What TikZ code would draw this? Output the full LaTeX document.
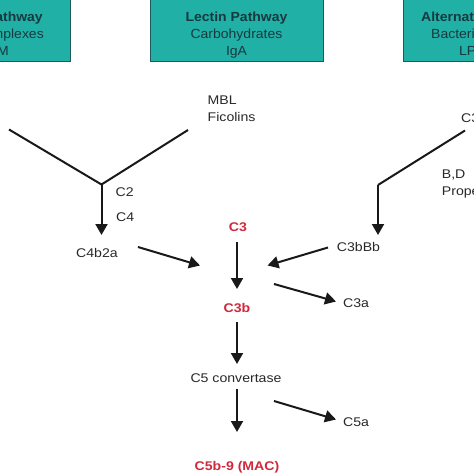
\documentclass[tikz,border=0pt]{standalone}
\usepackage{fontspec}
\setmainfont{Liberation Sans}
\newfontfamily\bodyf{Liberation Sans}[FakeStretch=1.12]
\newfontfamily\boxf{Liberation Sans}[FakeStretch=1.06]
\usetikzlibrary{arrows.meta}
\definecolor{boxfill}{RGB}{32,176,166}
\definecolor{boxedge}{RGB}{30,88,96}
\definecolor{boxtext}{RGB}{22,58,64}
\definecolor{bodytext}{RGB}{40,40,40}
\definecolor{hired}{RGB}{208,40,60}
\begin{document}
\begin{tikzpicture}[x=1pt,y=-1pt,
  pathbox/.style={draw=boxedge,line width=1.4pt,fill=boxfill},
  boxtitle/.style={anchor=base,inner sep=0pt,text=boxtext,font=\boxf\bfseries\fontsize{13.2}{15}\selectfont},
  boxline/.style={anchor=base,inner sep=0pt,text=boxtext,font=\boxf\fontsize{13.2}{15}\selectfont},
  lbl/.style={anchor=base west,inner sep=0pt,text=bodytext,font=\bodyf\fontsize{12.6}{14}\selectfont},
  keylbl/.style={anchor=base,inner sep=0pt,text=hired,font=\bodyf\bfseries\fontsize{12.6}{14}\selectfont},
  ln/.style={line width=2pt,draw=black!90},
  arr/.style={ln,-{Triangle[length=11pt,width=12pt]}}]
\useasboundingbox (0,0) rectangle (474,474);
\clip (0,0) rectangle (474,474);
% pathway boxes
\node[pathbox,minimum width=173pt,minimum height=72pt,anchor=south east] (classbox) at (71,62) {};
\node[pathbox,minimum width=173pt,minimum height=72pt,anchor=south west] (lectbox) at (150,62) {};
\node[pathbox,minimum width=173pt,minimum height=72pt,anchor=south west] (altbox) at (403,62) {};
% box texts
\node[boxtitle,anchor=base east] (cl1) at (43,21) {Classical Pathway};
\node[boxline,anchor=base east] (cl2) at (44,38.3) {Immune complexes};
\node[boxline,anchor=base east] (cl3) at (9,55.5) {IgM};
\node[boxtitle] (le1) at (236.5,21) {Lectin Pathway};
\node[boxline] (le2) at (236.5,38.3) {Carbohydrates};
\node[boxline] (le3) at (236.5,55.5) {IgA};
\node[boxtitle,anchor=base west] (al1) at (421,21) {Alternative Pathway};
\node[boxline,anchor=base west] (al2) at (431,38.3) {Bacteria};
\node[boxline,anchor=base west] (al3) at (459,55.5) {LPS};
% labels
\node[lbl] (mbl) at (207.5,104) {MBL};
\node[lbl] (fico) at (207.5,121) {Ficolins};
\node[lbl] (c2) at (115.5,196.7) {C2};
\node[lbl] (c4) at (116,221) {C4};
\node[lbl] (c4b2a) at (76,257.7) {C4b2a};
\node[lbl] (c3alt) at (461,122) {C3};
\node[lbl] (bd) at (441.7,178.3) {B,D};
\node[lbl] (prop) at (441.7,195) {Properdin};
\node[lbl] (c3bbb) at (336.7,251) {C3bBb};
\node[keylbl] (c3) at (238,231.7) {C3};
\node[keylbl] (c3b) at (237,312.3) {C3b};
\node[lbl] (c3a) at (343,307.3) {C3a};
\node[lbl,anchor=base] (c5conv) at (236,382.5) {C5 convertase};
\node[lbl] (c5a) at (343,426) {C5a};
\node[keylbl] (mac) at (237,470) {C5b-9 (MAC)};
% connector points
\coordinate (vl) at (9,129.5);
\coordinate (vr) at (188,130);
\coordinate (vj) at (101.5,184.5);
\coordinate (vt) at (101.5,235);
\coordinate (ar) at (465,130.5);
\coordinate (aj) at (378,185);
\coordinate (at) at (378,235);
\coordinate (k1s) at (138,247);
\coordinate (k1e) at (200,265.5);
\coordinate (k2s) at (328,247.5);
\coordinate (k2e) at (267.5,265.5);
\coordinate (m1s) at (237,242);
\coordinate (m1e) at (237,289);
\coordinate (m2s) at (237,322);
\coordinate (m2e) at (237,364);
\coordinate (m3s) at (237,389);
\coordinate (m3e) at (237,432);
\coordinate (s1s) at (274,284);
\coordinate (s1e) at (336,301.5);
\coordinate (s2s) at (274,401);
\coordinate (s2e) at (336,419.5);
% connectors
\draw[ln] (vl) -- (vj) -- (vr);
\draw[arr] (vj) -- (vt);
\draw[ln] (ar) -- (aj);
\draw[arr] (aj) -- (at);
\draw[arr] (k1s) -- (k1e);
\draw[arr] (k2s) -- (k2e);
\draw[arr] (m1s) -- (m1e);
\draw[arr] (m2s) -- (m2e);
\draw[arr] (m3s) -- (m3e);
\draw[arr] (s1s) -- (s1e);
\draw[arr] (s2s) -- (s2e);
\end{tikzpicture}
\end{document}
